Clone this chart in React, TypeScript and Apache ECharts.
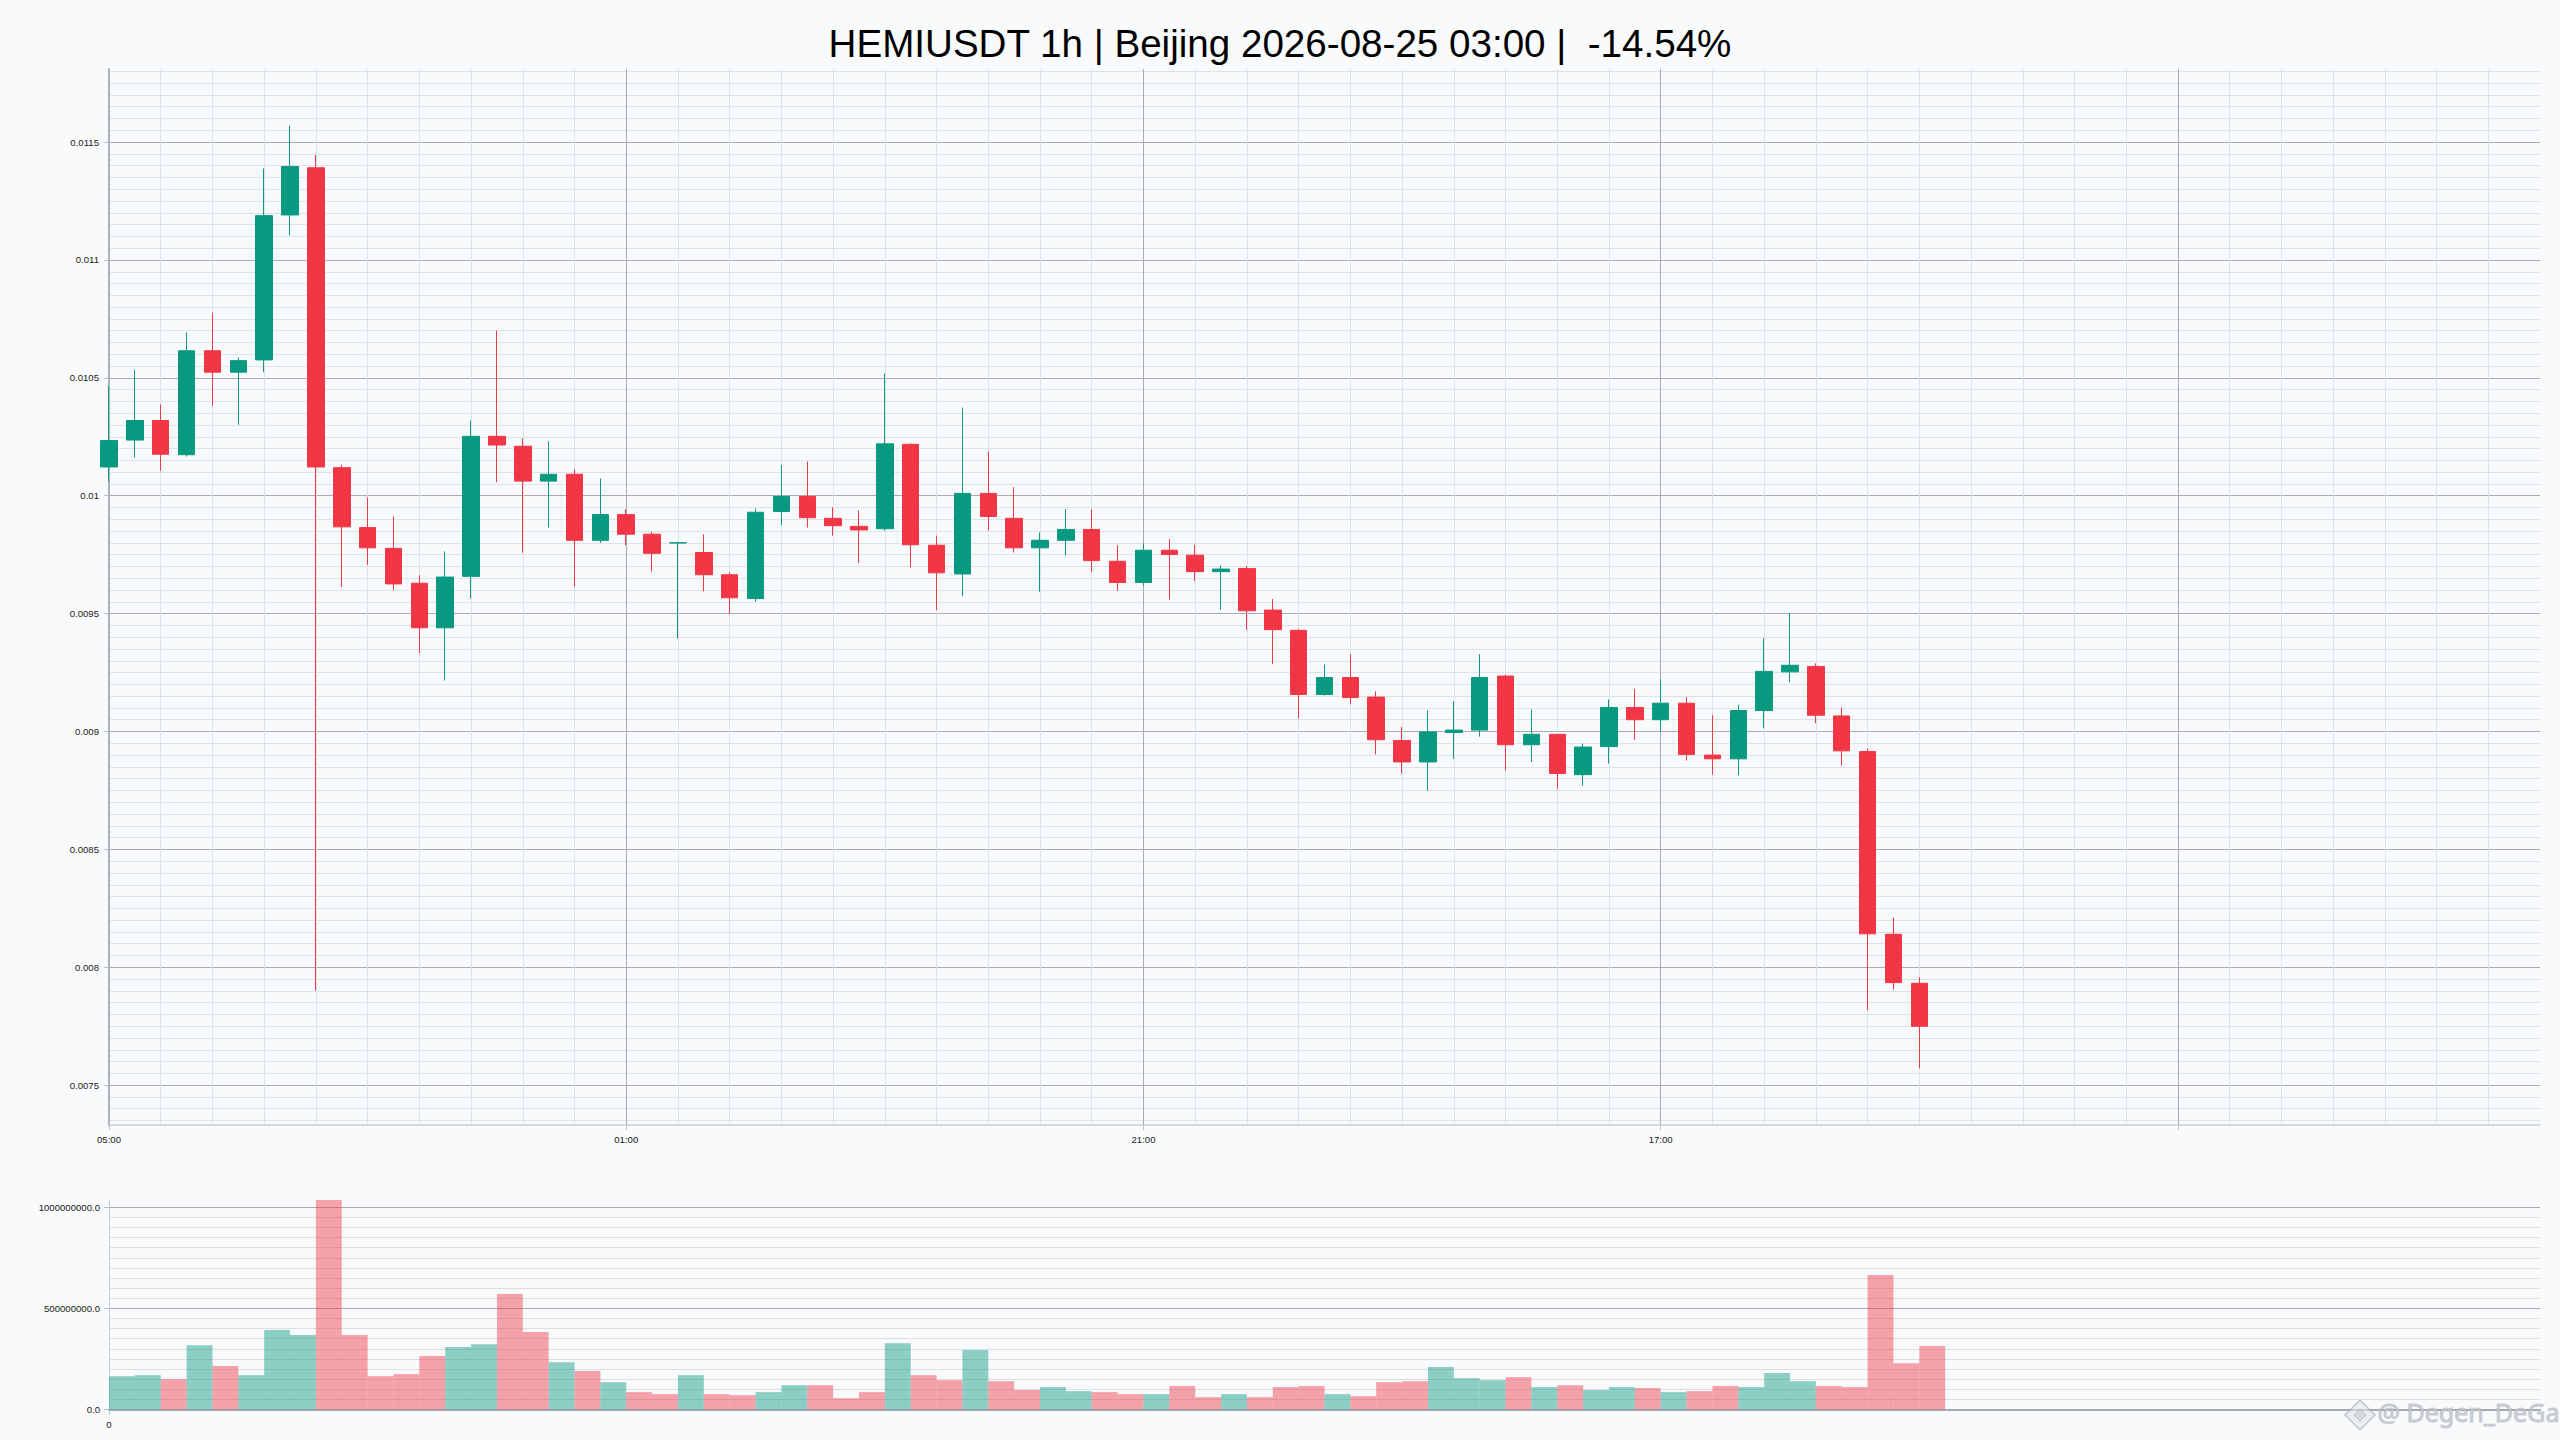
import React, { useEffect, useRef } from 'react';
import * as echarts from 'echarts';

// ---- Data (hourly candles) ----
const opens = [
  0.010122, 0.010236, 0.010319, 0.010174, 0.010615, 0.010524, 0.010576, 0.011191, 0.011391, 0.010119,
  0.009865, 0.009777, 0.009629, 0.00944, 0.009658, 0.010252, 0.01021, 0.010062, 0.010091, 0.009811,
  0.00992, 0.009837, 0.0098, 0.009759, 0.009665, 0.009564, 0.009933, 0.009997, 0.009904, 0.00987,
  0.00986, 0.010218, 0.00979, 0.009668, 0.01001, 0.009904, 0.009779, 0.009811, 0.009857, 0.009722,
  0.009632, 0.009769, 0.009748, 0.009678, 0.009691, 0.009515, 0.009429, 0.009157, 0.009229, 0.009146,
  0.008962, 0.008871, 0.008996, 0.009006, 0.009235, 0.008944, 0.008988, 0.008817, 0.008936, 0.009102,
  0.00905, 0.00912, 0.0089, 0.008884, 0.009089, 0.009253, 0.009276, 0.009066, 0.008915, 0.00814,
  0.007932,
];
const closes = [
  0.010234, 0.010319, 0.010176, 0.010615, 0.010524, 0.010573, 0.011188, 0.011396, 0.010122, 0.009868,
  0.009779, 0.009626, 0.00944, 0.009655, 0.010252, 0.010215, 0.010062, 0.010091, 0.009811, 0.00992,
  0.009837, 0.009756, 0.0098, 0.009665, 0.009567, 0.00993, 0.009997, 0.009907, 0.009873, 0.009855,
  0.01022, 0.009792, 0.009673, 0.01001, 0.009912, 0.009779, 0.009811, 0.009857, 0.009725, 0.009632,
  0.009769, 0.009751, 0.009678, 0.009689, 0.009512, 0.009432, 0.009157, 0.009229, 0.009144, 0.008965,
  0.008871, 0.008998, 0.009006, 0.009229, 0.008944, 0.008988, 0.008822, 0.008934, 0.009102, 0.00905,
  0.00912, 0.008903, 0.008884, 0.009089, 0.009255, 0.009281, 0.009069, 0.008918, 0.008142, 0.007935,
  0.00775,
];
const lows = [
  0.01006, 0.010161, 0.010106, 0.010166, 0.010381, 0.010301, 0.010524, 0.011105, 0.007901, 0.009613,
  0.009707, 0.0096, 0.009333, 0.009216, 0.009564, 0.010057, 0.009759, 0.009865, 0.009616, 0.0098,
  0.00979, 0.009678, 0.009395, 0.009595, 0.009499, 0.009551, 0.009875, 0.009865, 0.009831, 0.009715,
  0.009852, 0.009696, 0.009515, 0.009574, 0.009852, 0.009759, 0.009593, 0.009748, 0.009676, 0.009598,
  0.009619, 0.009559, 0.009639, 0.009517, 0.009432, 0.009286, 0.009056, 0.009152, 0.009115, 0.008903,
  0.008822, 0.008749, 0.008884, 0.008978, 0.008835, 0.008871, 0.008757, 0.00877, 0.008864, 0.008965,
  0.009001, 0.008877, 0.008817, 0.008814, 0.009014, 0.009209, 0.009035, 0.008856, 0.007818, 0.007906,
  0.007571,
];
const highs = [
  0.010464, 0.010534, 0.010387, 0.010693, 0.010776, 0.010586, 0.011388, 0.01157, 0.011445, 0.01013,
  0.009992, 0.009912, 0.009663, 0.009764, 0.010319, 0.010701, 0.010244, 0.010231, 0.010112, 0.010073,
  0.009943, 0.009847, 0.009803, 0.009837, 0.009676, 0.009946, 0.01013, 0.010145, 0.009951, 0.009938,
  0.010519, 0.010223, 0.009831, 0.010374, 0.010187, 0.010036, 0.009844, 0.009943, 0.009943, 0.00979,
  0.009798, 0.009816, 0.009792, 0.009704, 0.009702, 0.009562, 0.009434, 0.009284, 0.009328, 0.00917,
  0.009019, 0.009089, 0.009128, 0.009328, 0.009242, 0.009094, 0.008988, 0.008949, 0.009136, 0.00918,
  0.009222, 0.009146, 0.009069, 0.009113, 0.009395, 0.009502, 0.009289, 0.009102, 0.008928, 0.00821,
  0.007958,
];
const volumes = [
  165e6, 170e6, 150e6, 318e6, 215e6, 170e6, 393e6, 368e6, 1036e6, 368e6,
  165e6, 175e6, 264e6, 309e6, 323e6, 571e6, 383e6, 234e6, 190e6, 135e6,
  86e6, 76e6, 170e6, 76e6, 71e6, 86e6, 120e6, 120e6, 56e6, 86e6,
  328e6, 170e6, 145e6, 294e6, 140e6, 96e6, 111e6, 91e6, 86e6, 76e6,
  76e6, 116e6, 61e6, 76e6, 61e6, 111e6, 116e6, 76e6, 66e6, 135e6,
  140e6, 210e6, 155e6, 145e6, 160e6, 111e6, 120e6, 96e6, 111e6, 106e6,
  86e6, 91e6, 116e6, 111e6, 180e6, 140e6, 116e6, 111e6, 665e6, 229e6,
  314e6,
];
const firstHour = 5; // first candle opens at 05:00
const hourLabels = opens.map((_, i) => String((firstHour + i) % 24).padStart(2, '0') + ':00');
const titleText = 'HEMIUSDT 1h | Beijing 2026-08-25 03:00 |  -14.54%';
const watermarkText = '@ Degen_DeGa';
const xAxisMax = 94; // hours shown on the time axis

const UP = '#089981';
const DOWN = '#f23645';
const VOL_UP = 'rgba(8,153,129,0.45)';
const VOL_DOWN = 'rgba(242,54,69,0.45)';
const BG = '#f8fafc';
const MAJOR = '#a8acb2';
const MINOR = '#dbe2ea';
const FONT = "'Liberation Sans', Arial, sans-serif";
const LABEL = '#1a1a1a';

export default function App() {
  const ref = useRef<HTMLDivElement>(null);
  useEffect(() => {
    if (!ref.current) return;
    const chart = echarts.init(ref.current, null, { renderer: 'svg' });

    const lo = Math.min(...lows);
    const hi = Math.max(...highs);
    const pad = (hi - lo) * 0.06;
    const yMin = lo - pad;
    const yMax = hi + pad;
    const volMax = Math.max(...volumes);

    const candleData = opens.map((o, i) => [i, o, closes[i], lows[i], highs[i]]);
    const volData = volumes.map((v, i) => [i, v, closes[i] >= opens[i] ? 1 : -1]);

    const labelStyle = { fontFamily: FONT, fontSize: 9.6, color: LABEL };

    const option: any = {
      animation: false,
      backgroundColor: BG,
      title: {
        text: titleText,
        left: 'center',
        top: 19,
        textStyle: { fontFamily: FONT, fontSize: 38.6, fontWeight: 'normal', color: '#000' },
      },
      grid: [
        { left: 109, right: 20, top: 69, height: 1056 },
        { left: 109, right: 20, top: 1200, height: 209.5 },
      ],
      xAxis: [
        {
          type: 'value',
          gridIndex: 0,
          min: 0,
          max: xAxisMax,
          interval: 20,
          axisLine: { show: true, lineStyle: { color: '#c6ced8', width: 1.5 } },
          axisTick: { show: true, length: 5, lineStyle: { color: '#b9c1cc' } },
          axisLabel: {
            ...labelStyle,
            margin: 9,
            showMaxLabel: false,
            formatter: (v: number) => {
              const i = Math.round(v);
              return i >= 0 && i < hourLabels.length ? hourLabels[i] : '';
            },
          },
          splitLine: { show: true, showMinLine: false, showMaxLine: false, lineStyle: { color: MAJOR, width: 1 } },
          minorTick: { show: false, splitNumber: 10 },
          minorSplitLine: { show: true, lineStyle: { color: MINOR, width: 1 } },
        },
        {
          type: 'value',
          gridIndex: 1,
          min: 0,
          max: xAxisMax,
          interval: 1000,
          axisLine: { show: true, lineStyle: { color: '#a3aab3', width: 2 } },
          axisTick: { show: true, length: 5, lineStyle: { color: '#b9c1cc' } },
          axisLabel: {
            ...labelStyle,
            margin: 10,
            showMaxLabel: false,
            formatter: (v: number) => (v === 0 ? '0' : ''),
          },
          splitLine: { show: false },
        },
      ],
      yAxis: [
        {
          type: 'value',
          gridIndex: 0,
          min: yMin,
          max: yMax,
          splitNumber: 9,
          axisLine: { show: true, lineStyle: { color: '#aab2bd', width: 2 } },
          axisTick: { show: true, length: 5, lineStyle: { color: '#b9c1cc' } },
          axisLabel: { ...labelStyle, margin: 10, showMinLabel: false, showMaxLabel: false },
          splitLine: { show: true, showMinLine: false, showMaxLine: false, lineStyle: { color: MAJOR, width: 1 } },
          minorTick: { show: false, splitNumber: 10 },
          minorSplitLine: { show: true, lineStyle: { color: MINOR, width: 1 } },
        },
        {
          type: 'value',
          gridIndex: 1,
          min: 0,
          max: volMax,
          splitNumber: 2,
          axisLine: { show: true, lineStyle: { color: '#c6ced8', width: 1 } },
          axisTick: { show: true, length: 5, lineStyle: { color: '#b9c1cc' } },
          axisLabel: {
            ...labelStyle,
            margin: 9,
            showMaxLabel: false,
            formatter: (v: number) => v.toFixed(1),
          },
          splitLine: { show: true, showMinLine: false, showMaxLine: false, lineStyle: { color: MAJOR, width: 1 } },
          minorTick: { show: false, splitNumber: 10 },
          minorSplitLine: { show: true, lineStyle: { color: '#dcdee2', width: 1 } },
        },
      ],
      series: [
        {
          type: 'candlestick',
          xAxisIndex: 0,
          yAxisIndex: 0,
          data: candleData,
          barWidth: 17,
          z: 3,
          itemStyle: {
            color: UP,
            color0: DOWN,
            borderColor: UP,
            borderColor0: DOWN,
            borderColorDoji: UP,
            borderWidth: 1,
          },
        },
        {
          type: 'custom',
          xAxisIndex: 1,
          yAxisIndex: 1,
          data: volData,
          encode: { x: 0, y: 1 },
          z: 3,
          renderItem: (_params: any, api: any) => {
            const i = api.value(0);
            const v = api.value(1);
            const dir = api.value(2);
            const a = api.coord([i, v]);
            const b = api.coord([i + 1, 0]);
            return {
              type: 'rect',
              shape: { x: a[0], y: a[1], width: b[0] - a[0], height: b[1] - a[1] },
              style: { fill: dir > 0 ? VOL_UP : VOL_DOWN },
            };
          },
        },
      ],
      graphic: [
        {
          type: 'polygon',
          shape: { points: [[2360, 1400], [2375, 1415], [2360, 1430], [2345, 1415]] },
          style: { fill: 'rgba(225,228,233,0.6)', stroke: 'rgba(160,166,175,0.6)', lineWidth: 1.5 },
          z: 10,
        },
        {
          type: 'polygon',
          shape: { points: [[2360, 1409], [2366, 1415], [2360, 1421], [2354, 1415]] },
          style: { fill: 'rgba(200,205,212,0.6)', stroke: 'rgba(160,166,175,0.6)', lineWidth: 1 },
          z: 10,
        },
        {
          type: 'text',
          left: 2377,
          top: 1399,
          z: 10,
          style: {
            text: watermarkText,
            fontFamily: "'Noto Sans', 'Open Sans', sans-serif",
            fontSize: 25,
            fill: 'rgba(196,200,207,0.9)',
            stroke: 'rgba(150,156,165,0.5)',
            lineWidth: 1,
          },
        },
      ],
    };

    chart.setOption(option);
    return () => chart.dispose();
  }, []);

  return (
    <div
      ref={ref}
      style={{ position: 'fixed', left: 0, top: 0, width: '2560px', height: '1440px' }}
    />
  );
}
